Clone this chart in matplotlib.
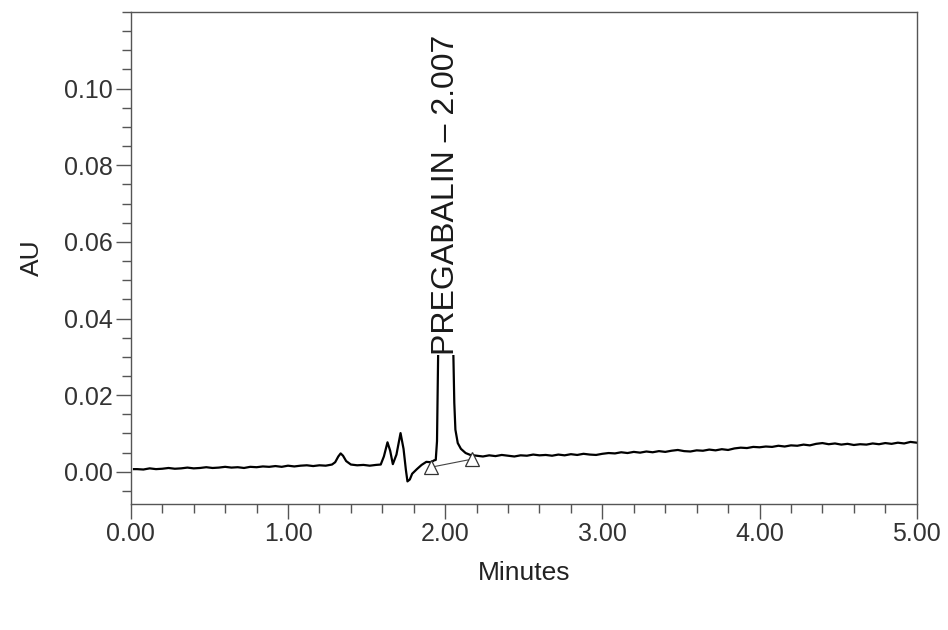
import matplotlib
matplotlib.use("Agg")
import matplotlib.pyplot as plt
from matplotlib.ticker import MultipleLocator, FormatStrFormatter

plt.rcParams['font.family'] = ['Liberation Sans', 'DejaVu Sans']

# chromatogram trace (minutes, AU)
time_min = [
    0.02, 0.04, 0.08, 0.12, 0.16, 0.20, 0.24, 0.28, 0.32, 0.36, 0.40, 0.44, 0.48,
    0.52, 0.56, 0.60, 0.64, 0.68, 0.72, 0.76, 0.80, 0.84, 0.88, 0.92, 0.96, 1.00,
    1.04, 1.08, 1.12, 1.16, 1.20, 1.24, 1.28,
    1.30, 1.32, 1.335, 1.35, 1.37, 1.40, 1.44, 1.48, 1.52, 1.56, 1.59, 1.61,
    1.633, 1.65, 1.667, 1.69, 1.716, 1.735, 1.75, 1.76, 1.775, 1.79, 1.82, 1.85,
    1.88, 1.91, 1.93,
    1.940, 1.948, 1.955, 1.962, 1.972, 1.985, 2.000, 2.012, 2.025, 2.037, 2.050,
    2.058, 2.065, 2.080, 2.100, 2.130, 2.160,
    2.20, 2.24, 2.28, 2.32, 2.36, 2.40, 2.44, 2.48, 2.52, 2.56, 2.60, 2.64, 2.68,
    2.72, 2.76, 2.80, 2.84, 2.88, 2.92, 2.96, 3.00, 3.04, 3.08, 3.12, 3.16, 3.20,
    3.24, 3.28, 3.32, 3.36, 3.40, 3.44, 3.48, 3.52, 3.56, 3.60, 3.64, 3.68, 3.72,
    3.76, 3.80, 3.84, 3.88, 3.92, 3.96, 4.00, 4.04, 4.08, 4.12, 4.16, 4.20, 4.24,
    4.28, 4.32, 4.36, 4.40, 4.44, 4.48, 4.52, 4.56, 4.60, 4.64, 4.68, 4.72, 4.76,
    4.80, 4.84, 4.88, 4.92, 4.96, 5.00,
]
absorbance = [
    0.0007, 0.0007, 0.0006, 0.0009, 0.0007, 0.0008, 0.0010, 0.0008, 0.0009, 0.0011,
    0.0009, 0.0010, 0.0012, 0.0010, 0.0011, 0.0013, 0.0011, 0.0012, 0.0010, 0.0013,
    0.0012, 0.0014, 0.0013, 0.0015, 0.0013, 0.0016, 0.0014, 0.0016, 0.0017, 0.0015,
    0.0017, 0.0016, 0.0019,
    0.0025, 0.0040, 0.0048, 0.0042, 0.0028, 0.0019, 0.0017, 0.0018, 0.0016, 0.0018,
    0.0019, 0.0040, 0.0077, 0.0055, 0.0020, 0.0045, 0.0101, 0.0060, 0.0005, -0.0025,
    -0.0020, -0.0005, 0.0007, 0.0018, 0.0026, 0.0025, 0.0030,
    0.0031, 0.0080, 0.0300, 0.0550, 0.0850, 0.1010, 0.1060, 0.1030, 0.0880, 0.0620,
    0.0340, 0.0180, 0.0110, 0.0075, 0.0060, 0.0049, 0.0044,
    0.0042, 0.0040, 0.0043, 0.0041, 0.0044, 0.0042, 0.0040, 0.0043, 0.0042, 0.0045,
    0.0043, 0.0044, 0.0042, 0.0045, 0.0043, 0.0046, 0.0044, 0.0047, 0.0045, 0.0044,
    0.0047, 0.0049, 0.0048, 0.0051, 0.0049, 0.0052, 0.0050, 0.0053, 0.0051, 0.0054,
    0.0052, 0.0055, 0.0057, 0.0054, 0.0053, 0.0056, 0.0055, 0.0058, 0.0056, 0.0059,
    0.0057, 0.0061, 0.0063, 0.0062, 0.0065, 0.0064, 0.0066, 0.0065, 0.0068, 0.0066,
    0.0069, 0.0068, 0.0071, 0.0069, 0.0073, 0.0075, 0.0072, 0.0074, 0.0071, 0.0073,
    0.0070, 0.0072, 0.0071, 0.0074, 0.0072, 0.0075, 0.0073, 0.0076, 0.0074, 0.0078,
    0.0076,
]

# integration baseline for the main peak
peak_name = "PREGABALIN"
peak_rt = 2.007
base_t = [1.91, 2.17]
base_y = [0.0012, 0.0033]

fig = plt.figure(figsize=(9.48, 6.30), dpi=100)
ax = fig.add_axes([0.138, 0.2, 0.829, 0.781])

ax.plot(time_min, absorbance, color='black', lw=1.6)
ax.plot(base_t, base_y, color='#444444', lw=0.8)
ax.plot(base_t, base_y, linestyle='none', marker='^', markersize=10,
        markerfacecolor='white', markeredgecolor='#333333', markeredgewidth=0.9)

ax.text(peak_rt, 0.0305, f"{peak_name} \u2013 {peak_rt:.3f}", rotation=90,
        ha='center', va='bottom', fontsize=23, color='#1a1a1a',
        bbox=dict(facecolor='white', edgecolor='none', pad=0.3))

ax.set_xlim(0, 5)
ax.set_ylim(-0.0084, 0.120)
ax.xaxis.set_major_locator(MultipleLocator(1))
ax.xaxis.set_minor_locator(MultipleLocator(0.2))
ax.yaxis.set_major_locator(MultipleLocator(0.02))
ax.yaxis.set_minor_locator(MultipleLocator(0.005))
ax.xaxis.set_major_formatter(FormatStrFormatter('%.2f'))
ax.yaxis.set_major_formatter(FormatStrFormatter('%.2f'))
ax.set_yticks([0, 0.02, 0.04, 0.06, 0.08, 0.10])

ax.tick_params(which='major', length=11, width=1, color='#555555', labelsize=18,
               labelcolor='#333333', pad=2)
ax.tick_params(which='minor', length=6.5, width=1, color='#555555')
for s in ax.spines.values():
    s.set_color('#555555')
    s.set_linewidth(1.0)

ax.set_xlabel("Minutes", fontsize=19, color='#222222', labelpad=11)
ax.set_ylabel("AU", fontsize=19, color='#222222', labelpad=14)

fig.savefig("out.png", dpi=100)
